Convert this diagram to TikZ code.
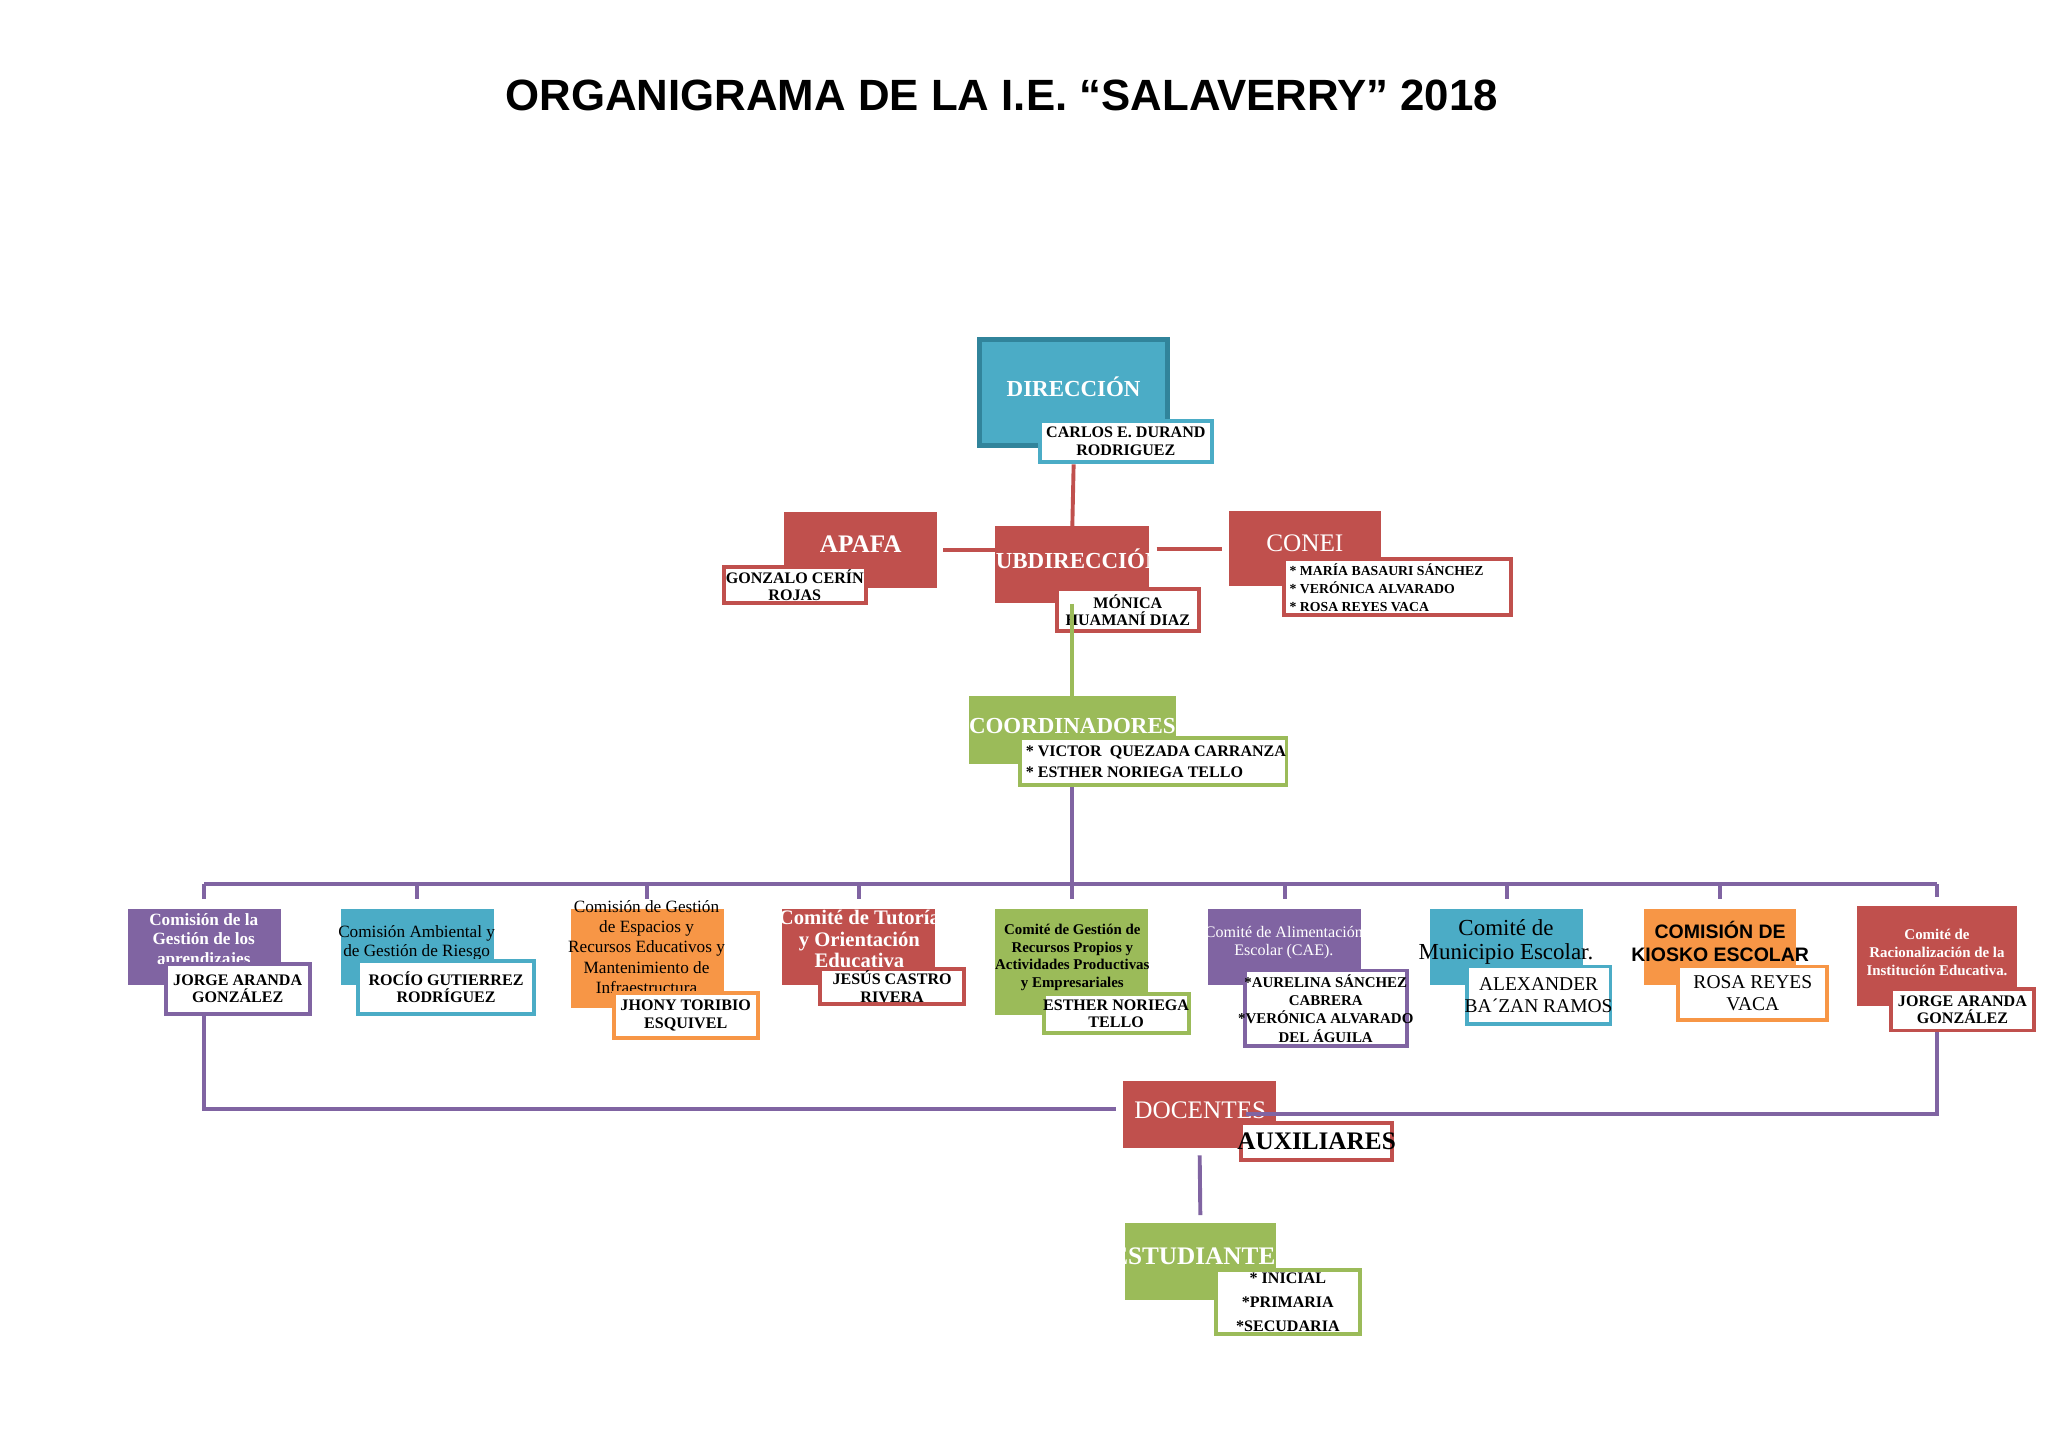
\documentclass[tikz,border=0pt]{standalone}
\usepackage{fontspec}
\setmainfont{Liberation Serif}
\setsansfont{Liberation Sans}
\usetikzlibrary{fit}
\definecolor{cblue}{HTML}{4BACC6}
\definecolor{cdblue}{HTML}{31849B}
\definecolor{cred}{HTML}{C0504D}
\definecolor{cgreen}{HTML}{9BBB59}
\definecolor{cpurp}{HTML}{8064A2}
\definecolor{corange}{HTML}{F79646}
\tikzset{
 cb/.style={fit={#1},inner sep=0pt,draw=none},
 wb/.style={fit={#1},inner sep=0pt,fill=white,line width=1.7pt},
 nm/.style={font=\fontsize{7}{7.6}\selectfont\bfseries,align=center,inner sep=0pt},
 hd/.style={font=\fontsize{10}{10.5}\selectfont\bfseries,text=white,align=center,inner sep=0pt},
 sm/.style={font=\fontsize{7}{7.8}\selectfont,text=white,align=center,inner sep=0pt},
 ln/.style={line width=1.7pt},
}
\begin{document}
\begin{tikzpicture}[x=0.02cm,y=-0.02cm]
\useasboundingbox[fill=white] (0,0) rectangle (1568,1108);
\node[font=\sffamily\bfseries,inner sep=0] (title) at (767,73) {\resizebox{15.2cm}{!}{ORGANIGRAMA DE LA I.E. “SALAVERRY” 2018}};
% DIRECCION
\node[cb={(750,260)(894,341)},fill=cblue,draw=cdblue,line width=2pt] (dir) {};
\node[hd] at (822,296) {DIRECCIÓN};
\node[wb={(796,322)(928,354)},draw=cblue] (dirw) {};
\node[nm] at (dirw) {CARLOS E. DURAND\\RODRIGUEZ};
% SUB
\node[cb={(762,403)(880,462)},fill=cred] (sub) {};
\node[hd] at (821,428) {SUBDIRECCIÓN};
\node[wb={(809,451)(918,483)},draw=cred] (subw) {};
\node[nm] at (subw) {MÓNICA\\HUAMANÍ DIAZ};
% APAFA
\node[cb={(600,392)(717,450)},fill=cred] (apafa) {};
\node[hd,font=\fontsize{11}{11}\selectfont\bfseries] at (659,417) {APAFA};
\node[wb={(554,434)(663,462)},draw=cred] (apafaw) {};
\node[nm] at (apafaw) {GONZALO CERÍN\\ROJAS};
% CONEI
\node[cb={(941,391)(1057,449)},fill=cred] (conei) {};
\node[font=\fontsize{11}{11}\selectfont,text=white,inner sep=0] at (999,416) {CONEI};
\node[wb={(983,428)(1157,471)},draw=cred] (coneiw) {};
\node[font=\fontsize{6}{8}\selectfont\bfseries,align=left,anchor=west,inner sep=0] at (987,450) {* MARÍA BASAURI SÁNCHEZ\\* VERÓNICA ALVARADO\\* ROSA REYES VACA};
% COORD
\node[cb={(742,533)(900,585)},fill=cgreen] (coord) {};
\node[hd] at (821,556) {COORDINADORES};
\node[wb={(781,565)(985,601)},draw=cgreen] (coordw) {};
\node[font=\fontsize{7}{9}\selectfont\bfseries,align=left,anchor=west,inner sep=0] at (785,583) {* VICTOR \ QUEZADA CARRANZA\\* ESTHER NORIEGA TELLO};
% connectors top
\draw[ln,cred] (dirw.south -| dir.south) -- (sub.north);
\draw[ln,cred] (apafa.east) ++(5,0) coordinate (a1) -- (sub.west |- a1) ++(-5,0);
\draw[ln,cred] ([xshift=5pt]apafa.east) -- ([xshift=-3pt]apafa.east -| sub.west);
\draw[ln,cred] ([xshift=3pt]sub.east |- conei.west) -- ([xshift=-3pt]conei.west);
\draw[ln,cgreen] (sub.south) -- (coord.north);
% bottom boxes
\node[cb={(98,696)(215,754)},fill=cpurp] (b1) {};
\node[sm,font=\fontsize{7.5}{8.5}\selectfont\bfseries] at (156,720) {Comisión de la\\Gestión de los\\aprendizajes};
\node[wb={(127,738)(237,776)},draw=cpurp] (b1w) {};
\node[nm] at (b1w) {JORGE ARANDA\\GONZÁLEZ};
\node[cb={(261,696)(378,754)},fill=cblue] (b2) {};
\node[font=\fontsize{7.5}{8.5}\selectfont,align=center,inner sep=0] at (319,722) {Comisión Ambiental y\\de Gestión de Riesgo};
\node[wb={(274,736)(409,776)},draw=cblue] (b2w) {};
\node[nm] at (b2w) {ROCÍO GUTIERREZ\\RODRÍGUEZ};
\node[cb={(437,696)(554,772)},fill=corange] (b3) {};
\node[font=\fontsize{7.5}{8.8}\selectfont,align=center,inner sep=0] at (495,725) {Comisión de Gestión\\de Espacios y\\Recursos Educativos y\\Mantenimiento de\\Infraestructura};
\node[wb={(470,760)(580,795)},draw=corange] (b3w) {};
\node[nm] at (b3w) {JHONY TORIBIO\\ESQUIVEL};
\node[cb={(599,696)(716,754)},fill=cred] (b4) {};
\node[hd,font=\fontsize{9}{9.5}\selectfont\bfseries] at (658,719) {Comité de Tutoría\\y Orientación\\Educativa};
\node[wb={(628,742)(738,769)},draw=cred] (b4w) {};
\node[nm] at (b4w) {JESÚS CASTRO\\RIVERA};
\node[cb={(762,696)(879,777)},fill=cgreen] (b5) {};
\node[font=\fontsize{6.5}{7.8}\selectfont\bfseries,align=center,inner sep=0] at (821,733) {Comité de Gestión de\\Recursos Propios y\\Actividades Productivas\\y Empresariales};
\node[wb={(799,761)(910,791)},draw=cgreen] (b5w) {};
\node[nm] at (b5w) {ESTHER NORIEGA\\TELLO};
\node[cb={(925,696)(1042,754)},fill=cpurp] (b6) {};
\node[sm] at (983,722) {Comité de Alimentación\\Escolar (CAE).};
\node[wb={(953,743)(1077,801)},draw=cpurp] (b6w) {};
\node[nm,font=\fontsize{6.5}{8}\selectfont\bfseries] at (b6w) {*AURELINA SÁNCHEZ\\CABRERA\\*VERÓNICA ALVARADO\\DEL ÁGUILA};
\node[cb={(1095,696)(1212,754)},fill=cblue] (b7) {};
\node[font=\fontsize{10}{10.5}\selectfont,align=center,inner sep=0] at (1153,721) {Comité de\\Municipio Escolar.};
\node[wb={(1123,740)(1233,784)},draw=cblue] (b7w) {};
\node[font=\fontsize{8.5}{9.5}\selectfont,align=center,inner sep=0] at (b7w) {ALEXANDER\\BA´ZAN RAMOS};
\node[cb={(1259,696)(1375,754)},fill=corange] (b8) {};
\node[font=\sffamily\fontsize{8.5}{10}\selectfont\bfseries,align=center,inner sep=0] at (1317,721) {COMISIÓN DE\\KIOSKO ESCOLAR};
\node[wb={(1285,740)(1399,781)},draw=corange] (b8w) {};
\node[font=\fontsize{8.5}{9.5}\selectfont,align=center,inner sep=0] at (b8w) {ROSA REYES\\VACA};
\node[cb={(1422,694)(1544,770)},fill=cred] (b9) {};
\node[sm,font=\fontsize{6.5}{7.8}\selectfont\bfseries] at (1483,729) {Comité de\\Racionalización de la\\Institución Educativa.};
\node[wb={(1448,757)(1557,789)},draw=cred] (b9w) {};
\node[nm] at (b9w) {JORGE ARANDA\\GONZÁLEZ};
% bus
\coordinate (bus) at (821,677);
\draw[ln,cpurp] (coordw.south -| coord.south) -- (bus);
\draw[ln,cpurp] (b1.north |- bus) -- (b9.north |- bus);
\foreach \b in {b1,b2,b3,b4,b5,b6,b7,b8,b9} \draw[ln,cpurp] (\b.north |- bus) -- ([yshift=4pt]\b.north);
% docentes
\node[cb={(860,828)(977,879)},fill=cred] (doc) {};
\node[font=\fontsize{11}{11}\selectfont,text=white,inner sep=0] at (919,850) {DOCENTES};
\node[wb={(950,860)(1066,888)},draw=cred] (docw) {};
\node[font=\fontsize{11}{11}\selectfont\bfseries,inner sep=0] at (docw) {AUXILIARES};
\draw[ln,cpurp] (b1w.south -| b1.south) |- ([xshift=-3pt]doc.west |- 0,849);
\draw[ln,cpurp] (b9w.south -| b9.south) |- ([xshift=3pt]docw.north west |- 0,853);
% estudiantes
\node[cb={(861,936)(977,995)},fill=cgreen] (est) {};
\node[hd,font=\fontsize{11}{11}\selectfont\bfseries] at (919,962) {ESTUDIANTES};
\node[wb={(931,972)(1041,1021)},draw=cgreen] (estw) {};
\node[nm,font=\fontsize{7}{10.5}\selectfont\bfseries] at (986,997) {* INICIAL\\*PRIMARIA\\*SECUDARIA};
\draw[ln,cpurp] ([yshift=-3pt]doc.south) -- ([yshift=3pt]est.north);
\end{tikzpicture}
\end{document}
